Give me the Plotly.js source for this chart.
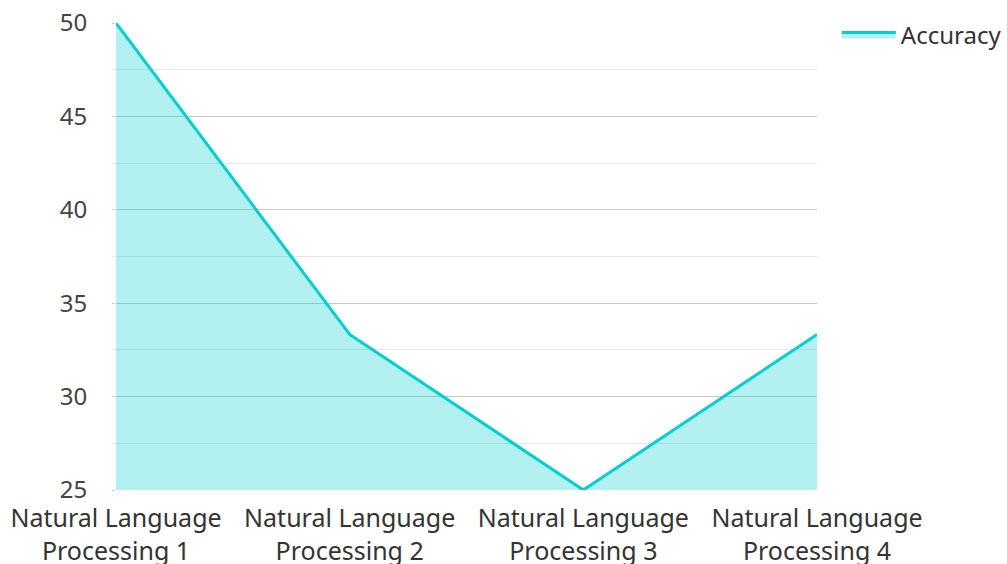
<!DOCTYPE html>
<html>
<head>
<meta charset="utf-8">
<script src="https://cdn.plot.ly/plotly-3.0.1.min.js"></script>
<style>html,body{margin:0;padding:0;background:#fff;}#chart{width:1007px;height:564px;}</style>
</head>
<body>
<div id="chart"></div>
<script>
const categories = ["Natural Language<br>Processing 1", "Natural Language<br>Processing 2", "Natural Language<br>Processing 3", "Natural Language<br>Processing 4"];
const accuracy = [50, 33.33, 25, 33.33];
const seriesName = "Accuracy";

const trace = {
  x: categories,
  y: accuracy,
  name: seriesName,
  type: "scatter",
  mode: "lines",
  fill: "tozeroy",
  line: {color: "#00CED1", width: 3},
  fillcolor: "rgba(0,206,209,0.3)"
};

const layout = {
  width: 1007,
  height: 564,
  margin: {l: 116, r: 190, t: 23, b: 74},
  paper_bgcolor: "#fff",
  plot_bgcolor: "#fff",
  font: {family: "Noto Sans, Open Sans, sans-serif", size: 24, color: "#333"},
  showlegend: true,
  legend: {xref: "container", yref: "container", x: 0.831, y: 0.938, xanchor: "left", yanchor: "middle", itemwidth: 54, font: {size: 24, color: "#333"}},
  xaxis: {
    type: "category",
    range: [0, 3],
    automargin: false,
    showgrid: false,
    zeroline: false,
    showline: false,
    ticks: "",
    ticklabelstandoff: 11,
    tickfont: {size: 25, color: "#333"}
  },
  yaxis: {
    range: [25, 50],
    dtick: 5,
    tick0: 25,
    automargin: false,
    showgrid: true,
    gridcolor: "#c8c8c8",
    gridwidth: 1,
    zeroline: false,
    showline: false,
    ticks: "outside",
    ticklen: 3,
    tickcolor: "#c8c8c8",
    ticklabelstandoff: 20,
    tickfont: {size: 24, color: "#444"},
    minor: {dtick: 2.5, showgrid: true, gridcolor: "#e6e6e6", ticks: "outside", ticklen: 3, tickcolor: "#e6e6e6"}
  }
};

Plotly.newPlot("chart", [trace], layout, {displayModeBar: false, staticPlot: true});
</script>
</body>
</html>
